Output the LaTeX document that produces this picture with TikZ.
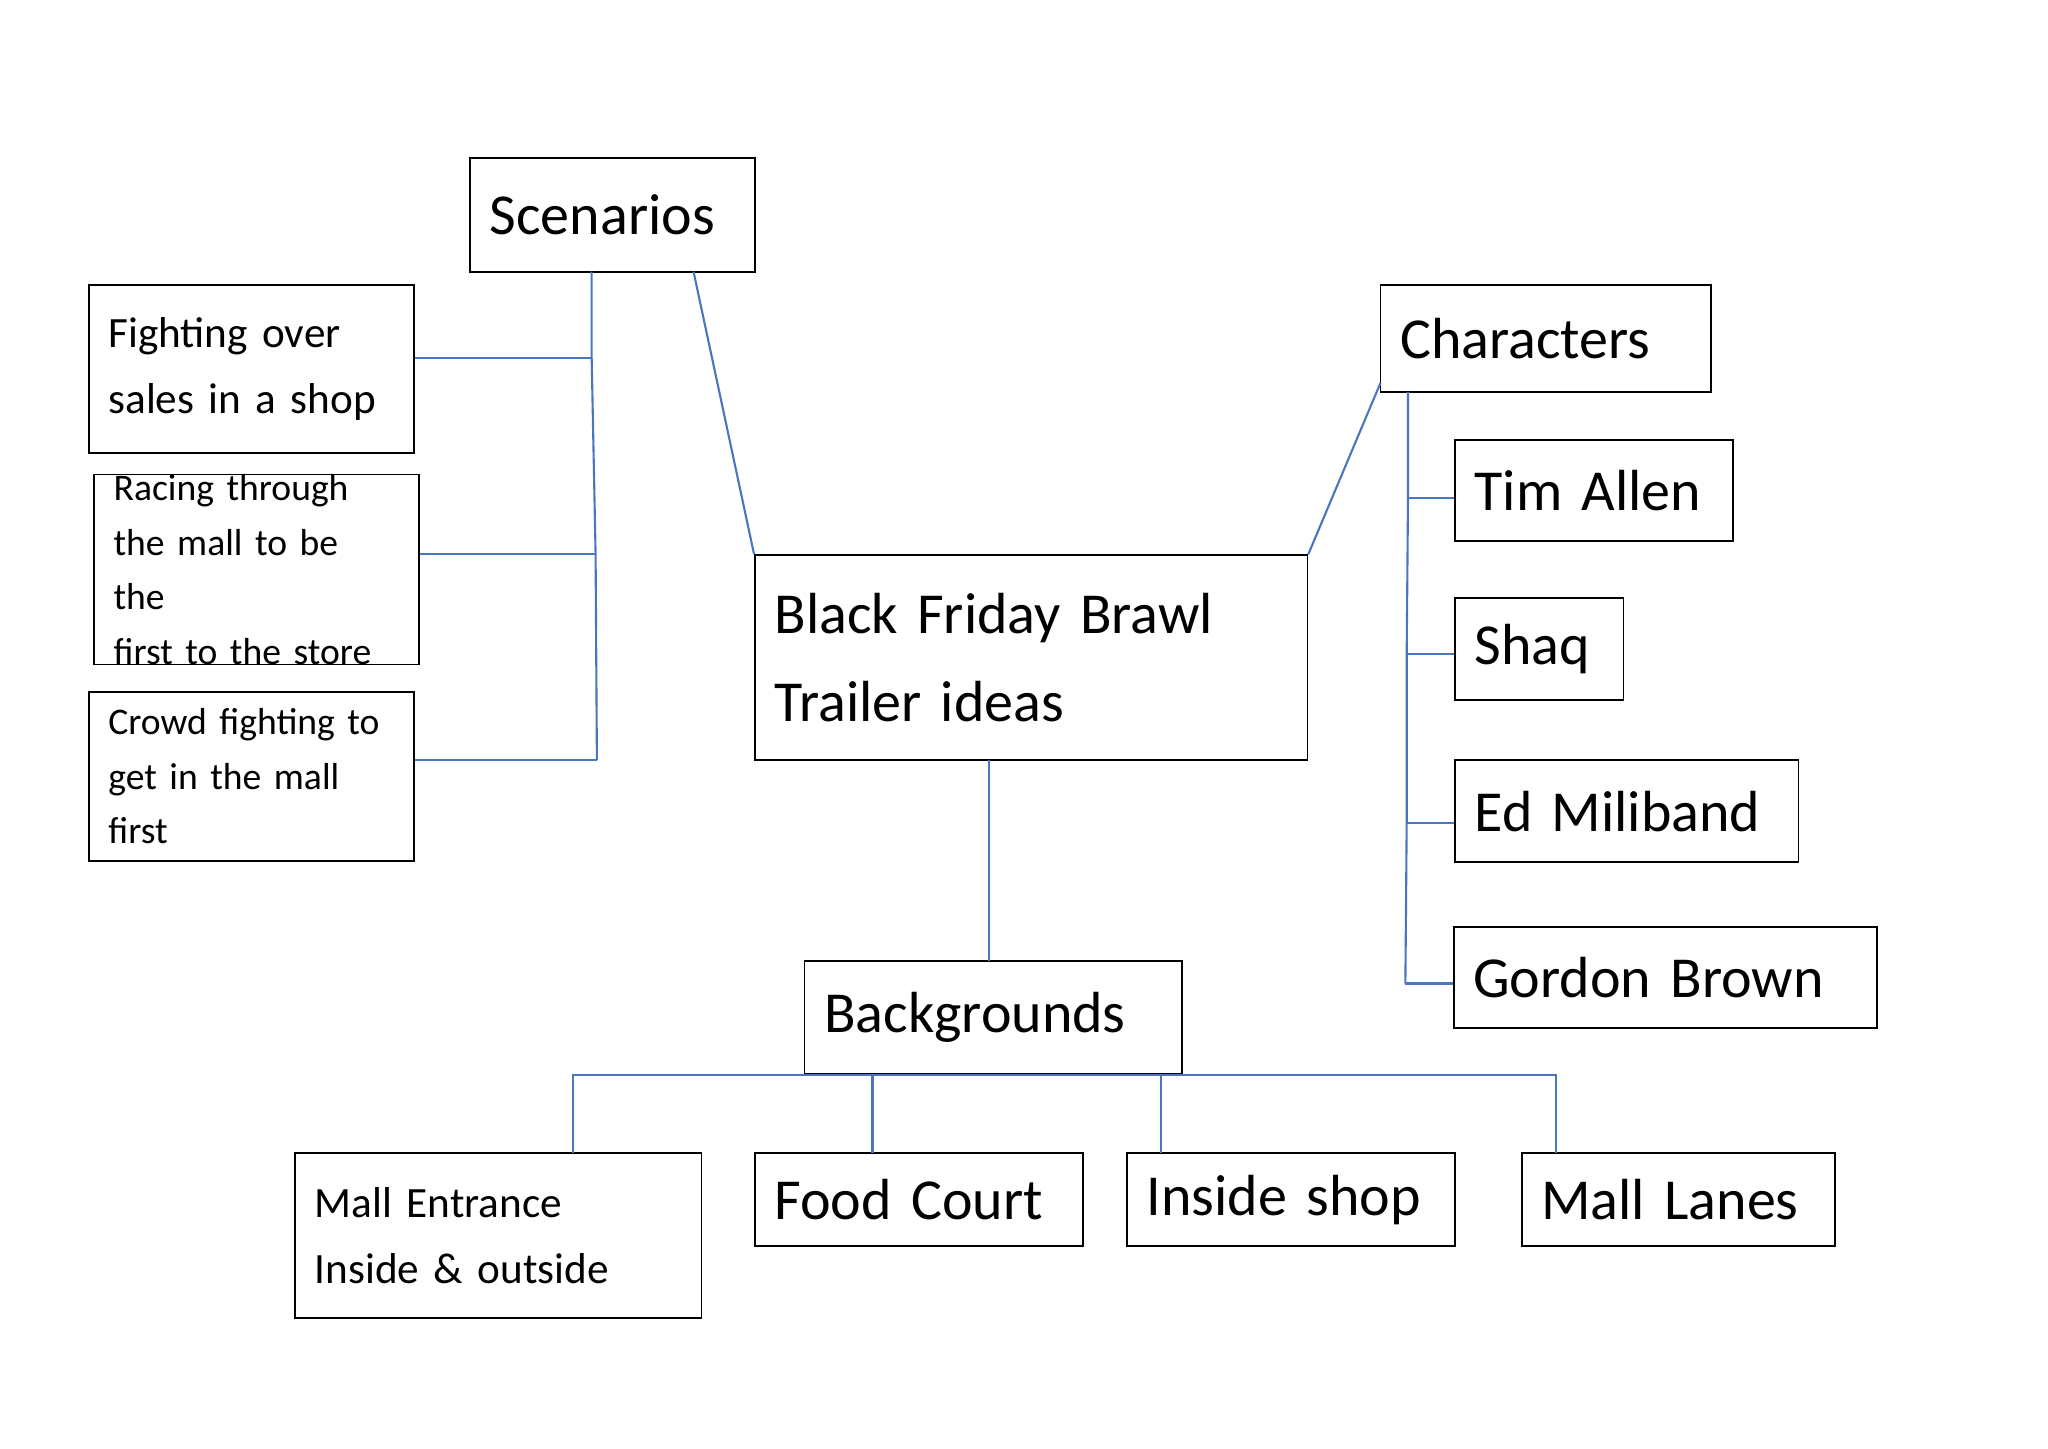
\documentclass[tikz,border=0pt]{standalone}
\usepackage{fontspec}
\setmainfont{Carlito}
\begin{document}
\begin{tikzpicture}[x=0.013061cm,y=-0.013061cm,
  box/.style={draw=black,line width=0.5pt,inner sep=0pt,align=left},
  lnk/.style={draw=blue!45!cyan!60!black,line width=0.6pt},
  big/.style={font=\fontsize{16.5}{25}\selectfont},
  med/.style={font=\fontsize{12.3}{19}\selectfont},
  sml/.style={font=\fontsize{10.7}{15.5}\selectfont}]
\definecolor{lc}{HTML}{4A76C0}
\tikzset{lnk/.style={draw=lc,line width=0.6pt}}
\useasboundingbox (0,0) rectangle (1568,1109);
\newcommand\bx[7]{%
 \pgfmathsetmacro\bw{(#4-#2)*0.013061}%
 \pgfmathsetmacro\bh{(#5-#3)*0.013061}%
 \pgfmathsetmacro\tw{(#4-#2-30)*0.013061}%
 \node[box,#6,minimum width=\bw cm,minimum height=\bh cm,text width=\tw cm] (#1) at ({(#2+#4)/2},{(#3+#5)/2}) {#7};}
\bx{scen}{360}{121}{578}{208}{big}{Scenarios}
\bx{fight}{68}{218}{317}{347}{med}{Fighting over\\sales in a shop}
\bx{race}{72}{371}{321}{501}{sml}{Racing through\\the mall to be the\\first to the store}
\bx{crowd}{68}{530}{317}{659}{sml}{Crowd fighting to\\get in the mall\\first}
\bx{bf}{578}{425}{1001}{582}{big}{Black Friday Brawl\\Trailer ideas}
\bx{chars}{1057}{218}{1310}{300}{big}{Characters}
\bx{tim}{1114}{337}{1327}{414}{big}{Tim Allen}
\bx{shaq}{1114}{458}{1243}{536}{big}{Shaq}
\bx{ed}{1114}{582}{1377}{660}{big}{Ed Miliband}
\bx{gb}{1113}{710}{1437}{787}{big}{Gordon Brown}
\bx{bg}{616}{736}{905}{822}{big}{Backgrounds}
\bx{me}{226}{883}{537}{1009}{med}{Mall Entrance\\Inside \& outside}
\bx{fc}{578}{883}{829}{954}{big}{Food Court}
\bx{is}{863}{883}{1114}{954}{big}{Inside shop}
\bx{ml}{1165}{883}{1405}{954}{big}{Mall Lanes}
% scenarios tree
\coordinate (s0) at (453,208);
\coordinate (s1) at (453,274);
\coordinate (s2) at (456,424);
\coordinate (s3) at (457,582);
\draw[lnk] (s0) -- (s1) -- (s2) -- (s3);
\draw[lnk] (fight.east |- s1) -- (s1);
\draw[lnk] (race.east |- s2) -- (s2);
\draw[lnk] (crowd.east |- s3) -- (s3);
\draw[lnk] (531,208) -- (bf.north west);
% characters
\draw[lnk] (bf.north east) -- (1057,293);
\coordinate (c0) at (1078,300);
\coordinate (c1) at (1078,381);
\coordinate (c2) at (1077,501);
\coordinate (c3) at (1077,630);
\coordinate (c4) at (1076,753);
\draw[lnk] (c0) -- (c1) -- (c2) -- (c3) -- (c4);
\draw[lnk] (c1) -- (tim.west |- c1);
\draw[lnk] (c2) -- (shaq.west |- c2);
\draw[lnk] (c3) -- (ed.west |- c3);
\draw[lnk] (c4) -- (gb.west |- c4);
% backgrounds
\draw[lnk] (757,582) -- (757,736);
\draw[lnk] (439,883) -- (439,823) -- (1191,823) -- (1191,883);
\draw[lnk] (668,823) -- (668,883);
\draw[lnk] (889,823) -- (889,883);
\end{tikzpicture}
\end{document}
